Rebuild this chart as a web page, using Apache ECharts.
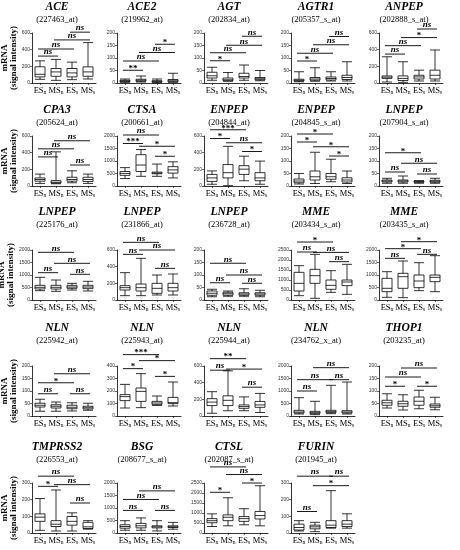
<!DOCTYPE html>
<html><head><meta charset="utf-8">
<script src="https://cdn.jsdelivr.net/npm/echarts@6/dist/echarts.min.js"></script>
<style>html,body{margin:0;padding:0;background:#fff}#c{width:460px;height:550px}</style>
</head><body><div id="c"></div>
<script>
const groups = ['ES_n','MS_n','ES_s','MS_s'];
const genes = ['ACE','ACE2','AGT','AGTR1','ANPEP','CPA3','CTSA','ENPEP','ENPEP','LNPEP','LNPEP','LNPEP','LNPEP','MME','MME','NLN','NLN','NLN','NLN','THOP1','TMPRSS2','BSG','CTSL','FURIN'];
const probes = ['227463_at','219962_at','202834_at','205357_s_at','202888_s_at','205624_at','200661_at','204844_at','204845_s_at','207904_s_at','225176_at','231866_at','236728_at','203434_s_at','203435_s_at','225942_at','225943_at','225944_at','234762_x_at','203235_at','226553_at','208677_s_at','202087_s_at','201945_at'];
const yMax  = [600,200,200,200,600, 600,2000,600,200,200, 2000,600,200,2500,2000, 200,400,600,2000,200, 300,2000,2500,300];
const yStep = [200,50,50,50,200, 200,500,200,50,50, 500,200,50,500,500, 50,100,200,500,50, 100,500,500,100];

// box data per panel: [min, Q1, median, Q3, max] for ES_n, MS_n, ES_s, MS_s
const boxACE      = [[44,73,105,194,266],[32,81,133,174,283],[40,73,121,174,250],[48,81,133,194,485]];
const boxACE2     = [[3,5,8,11,16],[4,7,11,15,28],[1,4,7,9,16],[3,5,9,14,39]];
const boxAGT      = [[11,20,29,43,63],[7,9,13,20,42],[11,20,26,39,72],[9,13,17,22,50]];
const boxAGTR1    = [[5,8,11,15,45],[7,11,16,22,61],[8,12,18,24,45],[8,14,22,31,85]];
const boxANPEP    = [[12,55,70,85,315],[8,30,55,85,255],[24,48,73,93,154],[24,48,93,154,396]];
const boxCPA3     = [[31,58,78,97,143],[27,35,45,65,410],[39,58,78,105,182],[31,54,78,105,143]];
const boxCTSA     = [[297,426,503,580,735],[387,580,839,1252,1458],[387,490,516,555,877],[323,516,645,774,968]];
const boxENPEP1   = [[21,55,97,139,181],[4,97,160,257,476],[63,139,202,244,358],[21,63,97,160,299]];
const boxENPEP2   = [[8,13,20,28,50],[10,24,37,60,135],[17,27,37,50,107],[10,16,24,33,60]];
const boxLNPEP1   = [[11,16,20,24,31],[11,16,20,24,40],[11,15,17,20,21],[11,15,19,23,31]];
const boxLNPEP2   = [[373,440,507,587,907],[347,440,507,587,800],[400,467,520,587,667],[360,453,520,587,747]];
const boxLNPEP3   = [[52,120,148,172,328],[52,108,148,192,500],[60,80,140,200,300],[60,108,148,200,312]];
const boxLNPEP4   = [[13,19,27,36,43],[15,19,25,31,36],[15,19,24,29,45],[13,19,24,29,39]];
const boxMME1     = [[217,450,833,1383,1717],[83,833,1217,1533,2283],[383,533,733,1000,1467],[283,717,900,1000,1783]];
const boxMME2     = [[107,333,467,867,1133],[93,467,933,1067,1560],[373,493,760,1000,1493],[333,733,907,1000,1773]];
const boxNLN1     = [[19,36,43,51,67],[19,32,39,45,56],[20,29,35,43,53],[23,28,33,39,51]];
const boxNLN2     = [[64,123,155,171,253],[67,117,197,224,339],[85,91,104,117,160],[80,99,107,149,272]];
const boxNLN3     = [[33,125,167,208,292],[63,125,188,242,542],[63,92,113,133,229],[42,104,133,175,271]];
const boxNLN4     = [[80,120,160,227,733],[53,93,133,187,587],[93,133,173,227,1227],[80,120,160,213,1360]];
const boxTHOP1    = [[32,43,53,63,89],[24,39,49,59,85],[29,43,59,76,103],[25,35,41,48,75]];
const boxTMPRSS2  = [[16,70,95,115,207],[12,39,53,74,258],[12,47,70,99,121],[23,27,37,64,74]];
const boxBSG      = [[110,192,260,329,493],[110,205,288,384,603],[82,205,247,288,493],[151,219,247,288,425]];
const boxCTSL     = [[325,513,616,719,958],[359,616,787,906,1761],[410,582,719,821,1214],[359,701,872,1077,2363]];
const boxFURIN    = [[12,18,33,53,74],[8,25,37,47,64],[29,33,47,74,254],[29,39,53,74,115]];

// significance brackets: [from group, to group, height, label]
const sigACE     = [[0,1,323,'ns'],[0,2,408,'ns'],[1,3,517,'ns'],[2,3,610,'ns']];
const sigACE2    = [[0,1,51,'**'],[0,2,88,'ns'],[1,3,122,'ns'],[2,3,155,'*']];
const sigAGT     = [[0,1,89,'*'],[0,2,121,'ns'],[1,3,151,'ns'],[2,3,187,'ns']];
const sigAGTR1   = [[0,1,88,'*'],[0,2,119,'ns'],[1,3,153,'ns'],[2,3,186,'ns']];
const sigANPEP   = [[0,1,347,'ns'],[0,2,448,'ns'],[1,3,545,'*'],[2,3,648,'ns']];
const sigCPA3    = [[0,1,349,'ns'],[0,2,446,'ns'],[1,3,543,'ns'],[2,3,252,'ns']];
const sigCTSA    = [[0,1,1700,'***'],[0,2,2040,'ns'],[1,3,1590,'*'],[2,3,1190,'*']];
const sigENPEP1  = [[0,1,570,'*'],[0,2,675,'***'],[1,3,519,'ns'],[2,3,414,'*']];
const sigENPEP2  = [[0,1,176,'*'],[0,2,208,'*'],[1,3,157,'*'],[2,3,120,'*']];
const sigLNPEP1  = [[0,1,56,'ns'],[0,2,133,'*'],[1,3,91,'ns'],[2,3,48,'ns']];
const sigLNPEP2  = [[0,1,1093,'ns'],[0,2,1907,'ns'],[1,3,1467,'ns'],[2,3,1027,'ns']];
const sigLNPEP3  = [[0,1,548,'ns'],[0,2,692,'ns'],[1,3,600,'ns'],[2,3,380,'ns']];
const sigLNPEP4  = [[0,1,69,'ns'],[0,2,147,'ns'],[1,3,100,'ns'],[2,3,67,'ns']];
const sigMME1    = [[0,1,2400,'ns'],[0,2,2900,'*'],[1,3,2380,'ns'],[2,3,1917,'ns']];
const sigMME2    = [[0,1,1667,'ns'],[0,2,2053,'*'],[1,3,2333,'*'],[2,3,1827,'ns']];
const sigNLN1    = [[0,1,89,'ns'],[0,2,133,'*'],[1,3,169,'ns'],[2,3,89,'ns']];
const sigNLN2    = [[0,1,379,'*'],[0,2,491,'***'],[1,3,443,'*'],[2,3,317,'*']];
const sigNLN3    = [[0,1,550,'ns'],[0,2,688,'**'],[1,3,563,'*'],[2,3,346,'ns']];
const sigNLN4    = [[0,1,1000,'ns'],[0,2,1453,'ns'],[1,3,1933,'ns'],[2,3,1453,'ns']];
const sigTHOP1   = [[0,1,119,'*'],[0,2,156,'ns'],[1,3,192,'ns'],[2,3,119,'*']];
const sigTMPRSS2 = [[0,1,280,'*'],[0,2,341,'ns'],[1,3,290,'ns'],[2,3,180,'ns']];
const sigBSG     = [[0,1,904,'ns'],[0,2,1342,'ns'],[1,3,1685,'ns'],[2,3,904,'ns']];
const sigCTSL    = [[0,1,2036,'*'],[0,2,3304,'ns'],[1,3,2924,'ns'],[2,3,2500,'*']];
const sigFURIN   = [[0,1,129,'ns'],[0,2,341,'ns'],[1,3,284,'*'],[2,3,341,'ns']];

const boxes = [boxACE,boxACE2,boxAGT,boxAGTR1,boxANPEP,boxCPA3,boxCTSA,boxENPEP1,boxENPEP2,boxLNPEP1,boxLNPEP2,boxLNPEP3,boxLNPEP4,boxMME1,boxMME2,boxNLN1,boxNLN2,boxNLN3,boxNLN4,boxTHOP1,boxTMPRSS2,boxBSG,boxCTSL,boxFURIN];
const sigs = [sigACE,sigACE2,sigAGT,sigAGTR1,sigANPEP,sigCPA3,sigCTSA,sigENPEP1,sigENPEP2,sigLNPEP1,sigLNPEP2,sigLNPEP3,sigLNPEP4,sigMME1,sigMME2,sigNLN1,sigNLN2,sigNLN3,sigNLN4,sigTHOP1,sigTMPRSS2,sigBSG,sigCTSL,sigFURIN];

// layout (styling only)
const colLeft = [32, 117, 204, 291, 379];
const rowTop = [33, 136, 250, 366, 483];
const titleTop = [1, 104, 206, 322, 441];
const gridW = 64, gridH = 50;
const SERIF = '"Liberation Serif","DejaVu Serif",serif';

const chart = echarts.init(document.getElementById('c'), null, {renderer: 'canvas'});
const grid = [], xAxis = [], yAxis = [], series = [], title = [];

genes.forEach((g, k) => {
  const r = Math.floor(k / 5), c = k % 5;
  grid.push({left: colLeft[c], top: rowTop[r], width: gridW, height: gridH, containLabel: false, outerBoundsMode: 'none'});
  title.push({
    text: g, subtext: '(' + probes[k] + ')',
    left: colLeft[c] + 25, top: titleTop[r], textAlign: 'center', padding: 0, itemGap: 2,
    textStyle: {fontFamily: SERIF, fontStyle: 'italic', fontWeight: 'bold', fontSize: 11.5, color: '#000'},
    subtextStyle: {fontFamily: SERIF, fontSize: 8.5, color: '#000'}
  });
  xAxis.push({
    type: 'category', gridIndex: k, data: groups, boundaryGap: true,
    axisLine: {show: true, lineStyle: {color: '#000', width: 0.8}},
    axisTick: {show: true, length: 2, alignWithLabel: true, lineStyle: {color: '#000', width: 0.6}},
    axisLabel: {
      interval: 0, margin: 3, hideOverlap: false,
      formatter: v => { const p = v.split('_'); return '{a|' + p[0] + '}{b|' + p[1] + '}'; },
      rich: {
        a: {fontFamily: SERIF, fontSize: 8.5, color: '#000'},
        b: {fontFamily: SERIF, fontSize: 5.5, color: '#000', verticalAlign: 'bottom', padding: [4, 0, 0, 0]}
      }
    },
    splitLine: {show: false}
  });
  yAxis.push({
    type: 'value', gridIndex: k, min: 0, max: yMax[k], interval: yStep[k],
    axisLine: {show: true, lineStyle: {color: '#000', width: 0.8}},
    axisTick: {show: true, length: 2, lineStyle: {color: '#000', width: 0.6}},
    axisLabel: {fontSize: 5, color: '#333', margin: 2, fontFamily: 'Liberation Sans', formatter: v => String(v)},
    splitLine: {show: false},
    name: c === 0 ? 'mRNA\n(signal intensity)' : '',
    nameLocation: 'middle', nameRotate: 90, nameGap: 14,
    nameTextStyle: {fontFamily: SERIF, fontSize: 9, fontWeight: 'bold', color: '#000', lineHeight: 9}
  });
  series.push({
    type: 'boxplot', xAxisIndex: k, yAxisIndex: k, data: boxes[k],
    boxWidth: [9, 10], silent: true, animation: false,
    itemStyle: {color: '#fff', borderColor: '#000', borderWidth: 0.8}
  });
  const sg = sigs[k];
  series.push({
    type: 'custom', xAxisIndex: k, yAxisIndex: k, clip: false, silent: true, animation: false, z: 5,
    data: sg.map(s => [s[0], s[1], s[2]]),
    encode: {x: [0, 1], y: 2},
    renderItem: (params, api) => {
      const p1 = api.coord([api.value(0), api.value(2)]);
      const p2 = api.coord([api.value(1), api.value(2)]);
      const lab = sg[params.dataIndex][3];
      const isNs = lab === 'ns';
      return {type: 'group', children: [
        {type: 'line', shape: {x1: p1[0] - 2, y1: p1[1], x2: p2[0] + 2, y2: p2[1]}, style: {stroke: '#000', lineWidth: 0.9}},
        {type: 'text', x: (p1[0] + p2[0]) / 2, y: p1[1] + (isNs ? 0.5 : 3),
         style: {text: lab, textAlign: 'center', textVerticalAlign: 'bottom',
                 font: (isNs ? 'italic bold 9px ' : 'bold 9px ') + SERIF, fill: '#000'}}
      ]};
    }
  });
});

chart.setOption({backgroundColor: '#fff', animation: false, title, grid, xAxis, yAxis, series});
</script>
</body></html>
